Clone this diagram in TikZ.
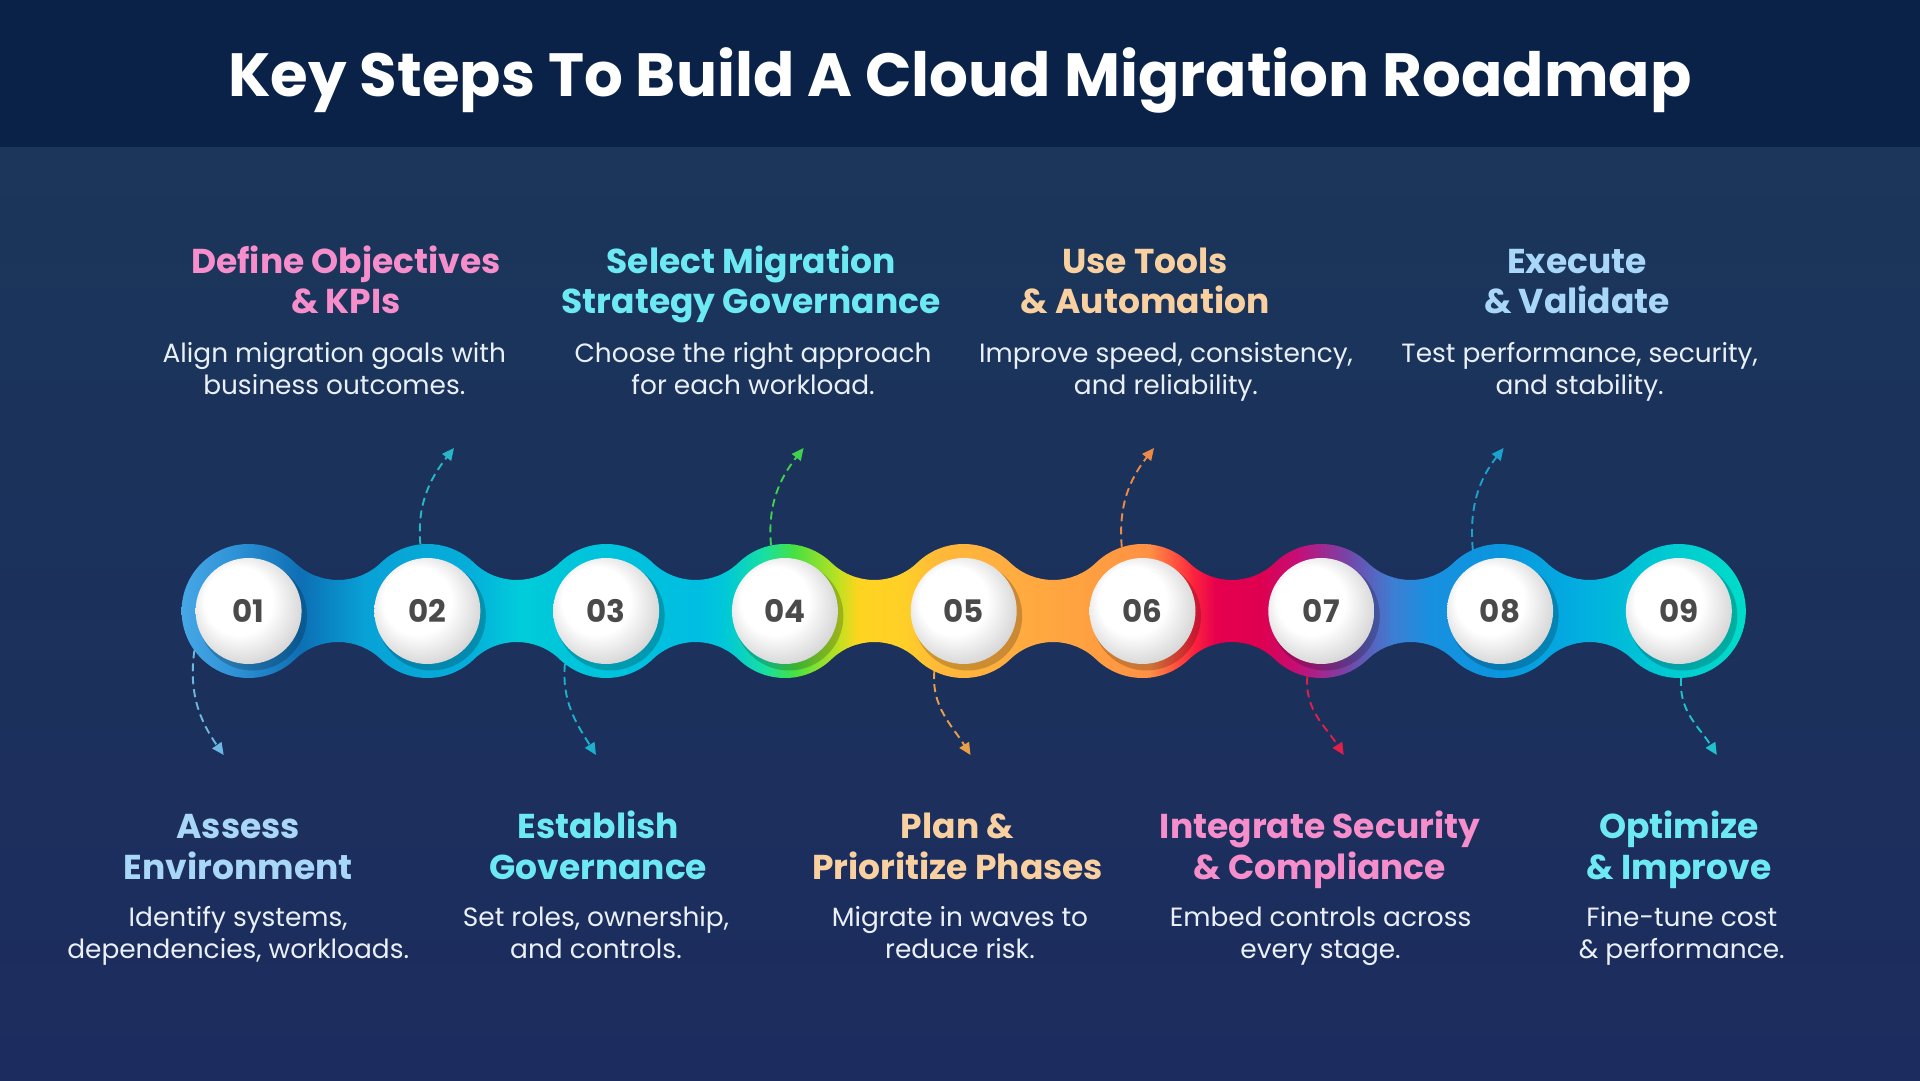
\documentclass[tikz,border=0pt]{standalone}
\usepackage{fontspec}
\setmainfont{Poppins}
\usetikzlibrary{arrows.meta,calc}
\definecolor{bgtop}{HTML}{1B365A}
\definecolor{bgbot}{HTML}{1C2C5E}
\definecolor{hdr}{HTML}{0A2148}
\definecolor{pinkh}{HTML}{F58ECB}
\definecolor{cyanh}{HTML}{6DE9F4}
\definecolor{peach}{HTML}{F9D0A0}
\definecolor{lblue}{HTML}{A8D7F8}
\definecolor{desccol}{HTML}{EAF0F7}
\definecolor{numgray}{HTML}{4A4A4A}
\definecolor{dg1}{HTML}{DADADA}
\definecolor{dg2}{HTML}{C2C2C2}
% chain colour stops
\definecolor{s0}{HTML}{4AAAE8}
\definecolor{s1}{HTML}{2E92D6}
\definecolor{s2}{HTML}{0E6FB4}
\definecolor{s3}{HTML}{0B7CBE}
\definecolor{s4}{HTML}{08A2D6}
\definecolor{s5}{HTML}{05AEDA}
\definecolor{s6}{HTML}{00CDDA}
\definecolor{s7}{HTML}{00C6DA}
\definecolor{s8}{HTML}{00C0DE}
\definecolor{s9}{HTML}{00BEE2}
\definecolor{s10}{HTML}{00C8D8}
\definecolor{s11}{HTML}{18E0A0}
\definecolor{s12}{HTML}{48E040}
\definecolor{s13}{HTML}{C4E020}
\definecolor{s14}{HTML}{FFD420}
\definecolor{s15}{HTML}{FFCF28}
\definecolor{s16}{HTML}{FFBA38}
\definecolor{s17}{HTML}{FFAE40}
\definecolor{s18}{HTML}{FFA240}
\definecolor{s19}{HTML}{FF9044}
\definecolor{s20}{HTML}{FF263C}
\definecolor{s21}{HTML}{E6004E}
\definecolor{s22}{HTML}{DE0050}
\definecolor{s23}{HTML}{C2107A}
\definecolor{s24}{HTML}{7248AA}
\definecolor{s25}{HTML}{3E7ED2}
\definecolor{s26}{HTML}{1890E0}
\definecolor{s27}{HTML}{0A96DE}
\definecolor{s28}{HTML}{02AEE0}
\definecolor{s29}{HTML}{00C6D4}
\definecolor{s30}{HTML}{00DEC8}
% arrow colours
\definecolor{a1}{HTML}{6CB8E2}
\definecolor{a2}{HTML}{2BB6C8}
\definecolor{a3}{HTML}{1DB0CC}
\definecolor{a4}{HTML}{40D050}
\definecolor{a5}{HTML}{E8A048}
\definecolor{a6}{HTML}{EC8A4A}
\definecolor{a7}{HTML}{E0204A}
\definecolor{a8}{HTML}{1EA0CC}
\definecolor{a9}{HTML}{1EC2CC}
\pgfdeclareradialshading{disc}{\pgfpoint{-8bp}{8bp}}{color(0bp)=(white); color(16bp)=(white); color(27bp)=(dg1); color(34bp)=(dg2); color(40bp)=(dg2)}
\newcommand\twolines[2]{\strut#1\\#2\strut}
\begin{document}
\begin{tikzpicture}[x=1pt,y=1pt,
  ringnode/.style={circle, minimum size=134pt, inner sep=0pt, outer sep=0pt, draw=none},
  discnode/.style={circle, minimum size=106pt, inner sep=0pt, outer sep=0pt, shade, shading=disc, text=numgray, font=\bfseries\fontsize{31}{31}\selectfont},
  flow/.style={dash pattern=on 8pt off 5pt, line width=1.9pt, -{Triangle[length=12pt,width=11pt]}},
  head/.style={font=\bfseries\fontsize{34.5}{40.4}\selectfont, align=center, inner sep=0pt},
  desc/.style={font=\fontsize{26.4}{32}\selectfont, text=desccol, align=center, inner sep=0pt},
  titletxt/.style={font=\bfseries\fontsize{61}{66}\selectfont, text=white, inner sep=0pt, anchor=base}]
\useasboundingbox (0,0) rectangle (1920,1080);
\shade[top color=bgtop, bottom color=bgbot] (0,0) rectangle (1920,933);
\fill[hdr] (0,933) rectangle (1920,1080);
\node[titletxt] (title) at (960,983) {Key Steps To Build A Cloud Migration Roadmap};

% chain geometry
\def\R{67}
\def\rf{61.98}
\def\ang{46.126}
\def\chainpath{(181.6,469) arc[start angle=180, end angle=\ang, radius=\R]
  \foreach \k in {1,...,8}{ arc[start angle=180+\ang, end angle=360-\ang, radius=\rf] arc[start angle=180-\ang, end angle=\ang, radius=\R] }
  arc[start angle=\ang, end angle=-\ang, radius=\R]
  \foreach \k in {1,...,8}{ arc[start angle=-\ang, end angle=\ang-180, radius=\R] arc[start angle=\ang, end angle=180-\ang, radius=\rf] }
  arc[start angle=-\ang, end angle=-180, radius=\R] -- cycle}
\begin{scope}
\clip \chainpath;
\foreach \xa/\ca/\xb/\cb in {175/s0/235/s1, 235/s1/300/s2, 300/s2/318/s3, 318/s3/365/s4, 365/s4/470/s5, 470/s5/520/s6, 520/s6/560/s7, 560/s7/650/s8, 650/s8/700/s9, 700/s9/725/s10, 725/s10/765/s11, 765/s11/795/s12, 795/s12/840/s13, 840/s13/858/s14, 858/s14/905/s15, 905/s15/935/s16, 935/s16/1000/s17, 1000/s17/1080/s18, 1080/s18/1150/s19, 1150/s19/1192/s20, 1192/s20/1215/s21, 1215/s21/1262/s22, 1262/s22/1300/s23, 1300/s23/1350/s24, 1350/s24/1392/s25, 1392/s25/1430/s26, 1430/s26/1500/s27, 1500/s27/1580/s28, 1580/s28/1650/s29, 1650/s29/1752/s30}
  \shade[left color=\ca, right color=\cb] (\xa-0.6,390) rectangle (\xb+0.6,550);
\end{scope}

% circles
\foreach \i/\x in {1/248.6, 2/427.38, 3/606.16, 4/784.94, 5/963.72, 6/1142.5, 7/1321.28, 8/1500.06, 9/1678.84}{
  \node[ringnode] (r\i) at (\x,469) {};
  \fill[black, opacity=0.2] (\x+4,464) circle (54.5);
  \node[discnode] (c\i) at (\x,469) {0\i};
}

% arrows
\coordinate (t1) at (223.7,325);
\coordinate (t2) at (454,632);
\coordinate (t3) at (596,325);
\coordinate (t4) at (803.6,632);
\coordinate (t5) at (970.5,325);
\coordinate (t6) at (1154,632);
\coordinate (t7) at (1343.7,325);
\coordinate (t8) at (1503.6,632);
\coordinate (t9) at (1716.8,325);
\draw[flow, a1] (r1.216) to[out=-98, in=125] (t1);
\draw[flow, a2] (r2.96) to[out=95, in=-128] (t2);
\draw[flow, a3] (r3.232) to[out=-95, in=122] (t3);
\draw[flow, a4] (r4.102) to[out=95, in=-128] (t4);
\draw[flow, a5] (r5.244) to[out=-95, in=122] (t5);
\draw[flow, a6] (r6.108) to[out=95, in=-128] (t6);
\draw[flow, a7] (r7.258) to[out=-95, in=122] (t7);
\draw[flow, a8] (r8.114) to[out=95, in=-128] (t8);
\draw[flow, a9] (r9.272) to[out=-95, in=122] (t9);

% top texts
\node[head, text=pinkh] (h2) at (346,794.5) {\twolines{Define Objectives}{\& KPIs}};
\node[desc] (d2) at (334.3,708) {\twolines{Align migration goals with}{business outcomes.}};
\node[head, text=cyanh] (h4) at (751.2,794.5) {\twolines{Select Migration}{Strategy Governance}};
\node[desc] (d4) at (753.1,708) {\twolines{Choose the right approach}{for each workload.}};
\node[head, text=peach] (h6) at (1145,794.5) {\twolines{Use Tools}{\& Automation}};
\node[desc] (d6) at (1166,708) {\twolines{Improve speed, consistency,}{and reliability.}};
\node[head, text=lblue] (h8) at (1577,794.5) {\twolines{Execute}{\& Validate}};
\node[desc] (d8) at (1579.6,708) {\twolines{Test performance, security,}{and stability.}};

% bottom texts
\node[head, text=lblue] (h1) at (238.2,229) {\twolines{Assess}{Environment}};
\node[desc] (d1) at (238.2,144) {\twolines{Identify systems,}{dependencies, workloads.}};
\node[head, text=cyanh] (h3) at (598.2,229) {\twolines{Establish}{Governance}};
\node[desc] (d3) at (596,144) {\twolines{Set roles, ownership,}{and controls.}};
\node[head, text=peach] (h5) at (957.6,229) {\twolines{Plan \&}{Prioritize Phases}};
\node[desc] (d5) at (960,144) {\twolines{Migrate in waves to}{reduce risk.}};
\node[head, text=pinkh] (h7) at (1320,229) {\twolines{Integrate Security}{\& Compliance}};
\node[desc] (d7) at (1320.6,144) {\twolines{Embed controls across}{every stage.}};
\node[head, text=cyanh] (h9) at (1679,229) {\twolines{Optimize}{\& Improve}};
\node[desc] (d9) at (1681.8,144) {\twolines{Fine-tune cost}{\& performance.}};
\end{tikzpicture}
\end{document}
